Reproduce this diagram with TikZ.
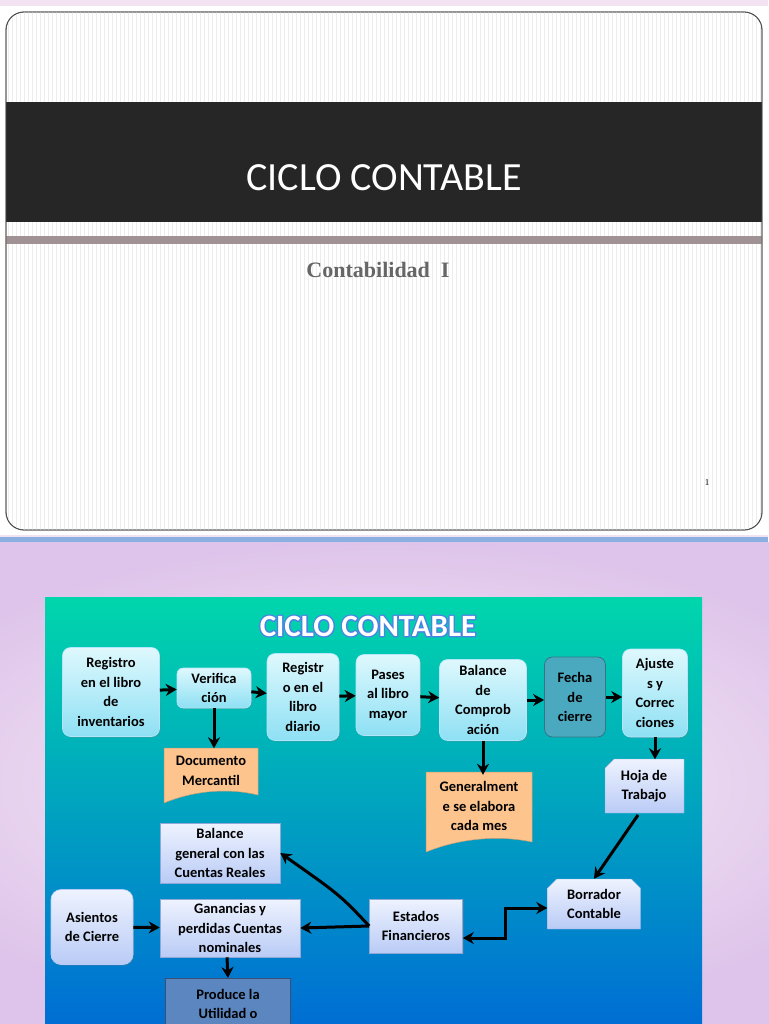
\documentclass[tikz,border=0pt]{standalone}
\usepackage{fontspec}
\setmainfont{Carlito}
\newfontfamily\serifb{Liberation Serif}
\usetikzlibrary{arrows.meta,shapes.misc,shadows}
\definecolor{band}{HTML}{262626}
\definecolor{mauve}{HTML}{A09294}
\definecolor{lcyan}{HTML}{C8F4FC}
\definecolor{lcyanB}{HTML}{8EE0F4}
\definecolor{fecha}{HTML}{4AA8BF}
\definecolor{orng}{HTML}{FDC48E}
\definecolor{lav}{HTML}{DDE6FD}
\definecolor{lavB}{HTML}{B9CBF6}
\definecolor{lavD}{HTML}{8FA8D8}
\definecolor{prod}{HTML}{5B86C0}
\newcommand{\outlinedtxt}[1]{\rlap{\special{pdf:code q 1 Tr 2.6 w 1 J 1 j 0.30 0.50 0.90 RG}#1\special{pdf:code 0 Tr Q}}#1}
\tikzset{
  box/.style={font=\bfseries\fontsize{14.5}{19.5}\selectfont, align=center, text=black, inner sep=1pt},
  cyanbox/.style={box, rounded corners=8pt, draw=white!70!cyan, line width=0.6pt, top color=lcyan!60!white, bottom color=lcyanB, drop shadow={opacity=0.35,shadow xshift=1pt,shadow yshift=-1pt}},
  lavbox/.style={box, draw=lavD, line width=0.6pt, top color=lav!50!white, bottom color=lavB, drop shadow={opacity=0.35,shadow xshift=1pt,shadow yshift=-1pt}},
  arr/.style={line width=3pt, -{Stealth[length=11pt,width=12pt]}, black},
  ttl/.style={font=\bfseries\fontsize{31}{34}\selectfont},
}
\begin{document}
\begin{tikzpicture}[x=1pt,y=-1pt]
\useasboundingbox (0,0) rectangle (768,1024);
% ---------- top slide ----------
\fill[color={rgb,255:red,242;green,226;blue,242}] (0,0) rectangle (768,540);
\fill[white] (0,6) rectangle (768,535);
\draw[line width=0.8pt, black!70, fill=white] (6,12) [rounded corners=18pt] rectangle (762,530);
\begin{scope}
\clip (6,12) [rounded corners=18pt] rectangle (762,530);
\foreach \i in {0,...,190} {\draw[black!7, line width=0.6pt] (8+\i*4,12) -- (8+\i*4,530);}
\fill[band] (6,102) rectangle (762,222);
\fill[mauve] (6,236) rectangle (762,244);
\end{scope}
\draw[line width=0.8pt, black!70] (6,12) [rounded corners=18pt] rectangle (762,530);
\node[text=white, font=\fontsize{40}{44}\selectfont] (t1) at (384,178) {CICLO CONTABLE};
\node[text=black!60, font=\serifb\bfseries\fontsize{22}{26}\selectfont] (t2) at (378,270) {Contabilidad\ \ I};
\node[font=\serifb\fontsize{9}{10}\selectfont] (pg) at (707,483) {1};
\fill[color={rgb,255:red,140;green,175;blue,225}] (0,537) rectangle (768,542);
% ---------- bottom slide ----------
\shade[inner color={rgb,255:red,250;green,240;blue,248}, outer color={rgb,255:red,222;green,196;blue,234}] (-150,542) rectangle (918,1024);
\shade[top color={rgb,255:red,0;green,214;blue,172}, middle color={rgb,255:red,20;green,190;blue,222}, bottom color={rgb,255:red,0;green,110;blue,212}] (45,597) rectangle (702,1024);
\node[ttl, text=white] (t3) at (368,626) {\outlinedtxt{CICLO CONTABLE}};
% row 1
\node[cyanbox, minimum width=97pt, minimum height=89pt] (n1) at (111,692) {Registro\\en el libro\\de\\inventarios};
\node[cyanbox, minimum width=74pt, minimum height=40pt, rounded corners=6pt] (n2) at (214,688) {Verifica\\ción};
\node[cyanbox, minimum width=72pt, minimum height=87pt] (n3) at (303,697) {Registr\\o en el\\libro\\diario};
\node[cyanbox, minimum width=64pt, minimum height=81pt] (n4) at (388,695) {Pases\\al libro\\mayor};
\node[cyanbox, minimum width=87pt, minimum height=81pt] (n5) at (483,700) {Balance\\de\\Comprob\\ación};
\node[box, rounded corners=8pt, draw=fecha!70!black, line width=0.8pt, fill=fecha, minimum width=61pt, minimum height=80pt] (n6) at (575,697) {Fecha\\de\\cierre};
\node[cyanbox, minimum width=65pt, minimum height=88pt] (n7) at (655,693) {Ajuste\\s y\\Correc\\ciones};
% documents
\fill[orng, draw=orng!80!black, line width=0.5pt] (164,748) -- (258,748) -- (258,795) .. controls (230,788) and (195,790) .. (164,803) -- cycle;
\node[box] (d1) at (211,771) {Documento\\Mercantil};
\fill[orng, draw=orng!80!black, line width=0.5pt] (426,772) -- (532,772) -- (532,842) .. controls (500,835) and (460,838) .. (426,852) -- cycle;
\node[box] (d2) at (479,806) {Generalment\\e se elabora\\cada mes};
\shade[top color=lav!50!white, bottom color=lavB, draw=lavD] (614,759) -- (684,759) -- (684,813) -- (605,813) -- (605,768) -- cycle;
\node[box] (d3) at (644,786) {Hoja de\\Trabajo};
% lower
\node[lavbox, minimum width=120pt, minimum height=60pt] (b1) at (220,853) {Balance\\general con las\\Cuentas Reales};
\node[box, chamfered rectangle, chamfered rectangle corners={north west,north east}, chamfered rectangle xsep=6pt, draw=lavD, top color=lav!50!white, bottom color=lavB, minimum width=93pt, minimum height=50pt] (b2) at (594,904) {Borrador\\Contable};
\node[cyanbox, top color=lav!50!white, bottom color=lavB, draw=lavB, minimum width=82pt, minimum height=75pt, rounded corners=10pt] (b3) at (92,927) {Asientos\\de Cierre};
\node[lavbox, minimum width=140pt, minimum height=58pt] (b4) at (230,928) {Ganancias y\\perdidas Cuentas\\nominales};
\node[lavbox, minimum width=93pt, minimum height=54pt] (b5) at (416,926) {Estados\\Financieros};
\node[box, draw=prod!60!black, line width=0.8pt, fill=prod, minimum width=125pt, minimum height=70pt, anchor=north] (b6) at (228,978) {Produce la\\Utilidad o\\\ };
% arrows
\draw[arr] (n1) -- (n2);
\draw[arr] (n2) -- (n3);
\draw[arr] (n3) -- (n4);
\draw[arr] (n4) -- (n5);
\draw[arr] (n5.east) -- (n6.west |- n5.east);
\draw[arr] (n6) -- (n7.west |- n6.east);
\draw[arr] (n2.south) -- ++(0,40);
\draw[arr] (n5.south) -- ++(0,34);
\draw[arr] (n7.south) -- ++(0,22);
\draw[arr] (638,815) -- (b2.north);
\draw[arr] (b5.west) .. controls (340,895) .. (b1.east);
\draw[arr] (b5.west) -- (b4.east);
\draw[arr, {Stealth[length=11pt,width=12pt]}-{Stealth[length=11pt,width=12pt]}] (b5.east |- 0,938) -- (505,938) -- (505,908) -- (b2.west |- 0,908);
\draw[arr] (b3) -- (b4);
\draw[arr] (b4.south) ++(-3,0) -- (b6.north);
\end{tikzpicture}
\end{document}
